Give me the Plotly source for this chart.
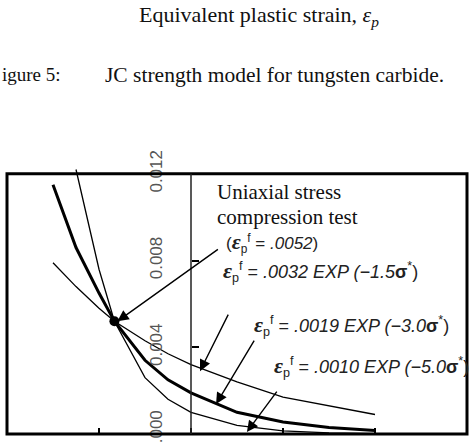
import plotly.graph_objects as go

# ---- data ----
sigma_ab = [-0.6, -0.5, -0.4, -0.333, -0.2, -0.1, 0.0, 0.2, 0.4, 0.6, 0.8]
eps_a = [0.0079, 0.0068, 0.0058, 0.0052, 0.0043, 0.0037, 0.0032, 0.0024, 0.0017, 0.0013, 0.0009]
eps_b = [0.0115, 0.0086, 0.0065, 0.0052, 0.0034, 0.0025, 0.0019, 0.0010, 0.00055, 0.0003, 0.00016]
sigma_c = [-0.5, -0.4, -0.333, -0.2, -0.1, 0.0, 0.2, 0.4, 0.6, 0.8]
eps_c = [0.0122, 0.0076, 0.0052, 0.0026, 0.0016, 0.0010, 0.0004, 0.00014, 0.00005, 0.00002]
test_sigma = [-0.333]
test_eps = [0.0052]
y_ticks = [0.0, 0.004, 0.008, 0.012]
y_tick_text = ["0.000", "0.004", "0.008", "0.012"]
x_ticks = [-0.4, 0.0, 0.4, 0.8]

X_RANGE = [-0.8, 1.2]
Y_RANGE = [0.0, 0.0125]
Y_BOX = 0.012

W, H = 474, 443
ML, MR, MT, MB = 7, 7, 163, 9
PW, PH = W - ML - MR, H - MT - MB

def pxx(px):
    return (px - ML) / PW

def pxy(py):
    return (H - MB - py) / PH

fig = go.Figure()
fig.add_trace(go.Scatter(x=sigma_ab, y=eps_a, mode="lines",
                         line=dict(color="black", width=1.3), showlegend=False))
fig.add_trace(go.Scatter(x=sigma_ab, y=eps_b, mode="lines",
                         line=dict(color="black", width=3), showlegend=False))
fig.add_trace(go.Scatter(x=sigma_c, y=eps_c, mode="lines",
                         line=dict(color="black", width=1.3), showlegend=False))
fig.add_trace(go.Scatter(x=test_sigma, y=test_eps, mode="markers",
                         marker=dict(color="black", size=10), showlegend=False))

serif = "Liberation Serif"
sans = "Liberation Sans"
EPS = '<span style="font-family:Liberation Serif;font-size:22px"><b><i>ε</i></b></span>'
ann = []
# titles above
ann.append(dict(text="Equivalent plastic strain, <i>ε<sub>p</sub></i>", x=pxx(259), y=pxy(16),
                xref="paper", yref="paper", xanchor="center", yanchor="middle",
                showarrow=False, font=dict(family=serif, size=22, color="#111")))
ann.append(dict(text="igure 5:", x=pxx(0), y=pxy(75), xref="paper", yref="paper",
                xanchor="left", yanchor="middle", showarrow=False,
                font=dict(family=serif, size=19, color="#111")))
ann.append(dict(text="JC strength model for tungsten carbide.", x=pxx(103), y=pxy(75),
                xref="paper", yref="paper", xanchor="left", yanchor="middle", showarrow=False,
                font=dict(family=serif, size=21.5, color="#111")))
# labels in the plot
ann.append(dict(text="Uniaxial stress", x=pxx(215), y=pxy(192), xref="paper", yref="paper",
                xanchor="left", yanchor="middle", showarrow=False,
                font=dict(family=serif, size=21, color="#111")))
ann.append(dict(text="compression test", x=pxx(215), y=pxy(217), xref="paper", yref="paper",
                xanchor="left", yanchor="middle", showarrow=False,
                font=dict(family=serif, size=21, color="#111")))
ann.append(dict(text="(" + EPS + "<sub>p</sub><sup>f</sup> = <i>.0052</i>)",
                x=pxx(224), y=pxy(242), xref="paper", yref="paper",
                xanchor="left", yanchor="middle", showarrow=False,
                font=dict(family=sans, size=17, color="#222")))
formulas = [
    (EPS + "<sub>p</sub><sup>f</sup> = <i>.0032 EXP (−1.5</i><b>σ</b><sup>*</sup>)", 221, 271),
    (EPS + "<sub>p</sub><sup>f</sup> = <i>.0019 EXP (−3.0</i><b>σ</b><sup>*</sup>)", 252, 325),
    (EPS + "<sub>p</sub><sup>f</sup> = <i>.0010 EXP (−5.0</i><b>σ</b><sup>*</sup>)", 272, 366),
]
for t, px, py in formulas:
    ann.append(dict(text=t, x=pxx(px), y=pxy(py), xref="paper", yref="paper",
                    xanchor="left", yanchor="middle", showarrow=False,
                    font=dict(family=sans, size=18, color="#222")))
# arrows
arrows = [(-0.32, 0.0052, 102, -73), (0.039, 0.0029, 29, -58),
          (0.109, 0.00138, 39, -65), (0.243, 0.00009, 31, -42)]
for x, y, ax, ay in arrows:
    ann.append(dict(text="", x=x, y=y, xref="x", yref="y", ax=ax, ay=ay,
                    showarrow=True, arrowhead=2, arrowsize=1.6, arrowwidth=1.4,
                    arrowcolor="black", standoff=0))

box_top = (Y_BOX - Y_RANGE[0]) / (Y_RANGE[1] - Y_RANGE[0])
zero_x = (0 - X_RANGE[0]) / (X_RANGE[1] - X_RANGE[0])
shapes = [
    dict(type="rect", xref="paper", yref="paper", x0=0, x1=1, y0=0, y1=box_top,
         line=dict(color="black", width=3)),
    dict(type="line", xref="paper", yref="paper", x0=zero_x, x1=zero_x, y0=0, y1=box_top,
         line=dict(color="#222", width=1.5)),
]

fig.update_layout(
    width=W, height=H, margin=dict(l=ML, r=MR, t=MT, b=MB, autoexpand=False),
    paper_bgcolor="white", plot_bgcolor="white",
    annotations=ann, shapes=shapes,
    xaxis=dict(range=X_RANGE, showgrid=False, zeroline=False, showline=False,
               tickmode="array", tickvals=x_ticks, ticks="inside", ticklen=6,
               tickwidth=1.5, tickcolor="black", showticklabels=False, automargin=False),
    yaxis=dict(range=Y_RANGE, showgrid=False, zeroline=False, showline=False,
               anchor="free", position=zero_x, side="left", automargin=False,
               tickmode="array", tickvals=y_ticks, ticktext=y_tick_text,
               ticks="inside", ticklen=7, tickwidth=1.5, tickcolor="black",
               tickangle=-90, ticklabelstandoff=26, ticklabeloverflow="allow",
               tickfont=dict(family=sans, size=17, color="#555")),
)

fig.write_html("out.html", config={"displayModeBar": False},
               post_script="document.body.style.margin='0';document.body.style.padding='0';")
